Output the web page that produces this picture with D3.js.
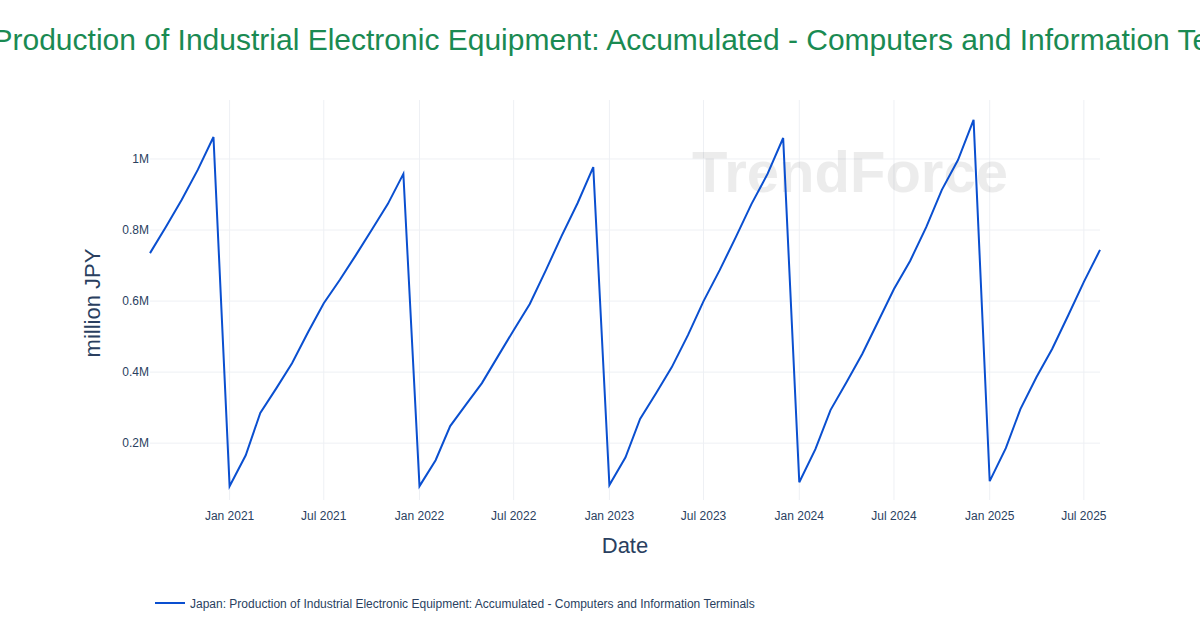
<!DOCTYPE html>
<html><head><meta charset="utf-8">
<script src="https://cdn.jsdelivr.net/npm/d3@7"></script>
<style>body{margin:0;background:#fff;font-family:"Liberation Sans",Arial,sans-serif}</style>
</head><body><svg id="c" width="1200" height="630" style="font-family:'Liberation Sans',Arial,sans-serif"></svg>
<script>
const startMonth = "2020-08";
const values = [0.735,0.81,0.885,0.97,1.062,
0.079,0.166,0.285,0.355,0.425,0.513,0.594,0.66,0.73,0.80,0.873,0.958,
0.079,0.152,0.248,0.31,0.369,0.445,0.518,0.592,0.687,0.783,0.876,0.977,
0.082,0.16,0.268,0.341,0.414,0.504,0.6,0.687,0.78,0.873,0.958,1.059,
0.09,0.183,0.293,0.372,0.451,0.544,0.634,0.713,0.808,0.913,0.997,1.11,
0.093,0.186,0.296,0.386,0.465,0.56,0.654,0.744];
const yTicks = [0.2,0.4,0.6,0.8,1.0];
const yTickLabels = ["0.2M","0.4M","0.6M","0.8M","1M"];
const xTicks = ["2021-01","2021-07","2022-01","2022-07","2023-01","2023-07","2024-01","2024-07","2025-01","2025-07"];
const fmtLabel = d3.timeFormat("%b %Y");
const parse = d3.timeParse("%Y-%m");
const start = parse(startMonth);
const data = values.map((v,i)=>({d:d3.timeMonth.offset(start,i),v}));

const svg = d3.select("#c");
const L=150,R=1100,T=100,B=500;
const x = d3.scaleTime().domain([data[0].d,data[data.length-1].d]).range([L,R]);
const y = d3.scaleLinear().domain([0.04,1.166]).range([B,T]);

svg.append("text").attr("x",600).attr("y",50).attr("text-anchor","middle")
 .attr("font-size",30).attr("fill","#1a8a52")
 .text("Japan: Production of Industrial Electronic Equipment: Accumulated - Computers and Information Terminals");

const g=svg.append("g");
xTicks.forEach(t=>{const xx=x(parse(t));
 g.append("line").attr("x1",xx).attr("x2",xx).attr("y1",T).attr("y2",B).attr("stroke","#eef0f4");
 g.append("text").attr("x",xx).attr("y",520).attr("text-anchor","middle").attr("font-size",12).attr("fill","#2a3f5f").text(fmtLabel(parse(t)));
});
yTicks.forEach((t,i)=>{const yy=y(t);
 g.append("line").attr("x1",L).attr("x2",R).attr("y1",yy).attr("y2",yy).attr("stroke","#eef0f4");
 g.append("text").attr("x",L-1).attr("y",yy+4).attr("text-anchor","end").attr("font-size",12).attr("fill","#2a3f5f").text(yTickLabels[i]);
});
svg.append("text").attr("x",850).attr("y",192).attr("text-anchor","middle").attr("font-size",58).attr("font-weight","bold")
 .attr("fill","#000").attr("opacity",0.07).text("TrendForce");
svg.append("text").attr("x",625).attr("y",553).attr("text-anchor","middle").attr("font-size",22).attr("fill","#2a3f5f").text("Date");
svg.append("text").attr("transform","translate(100,303) rotate(-90)").attr("text-anchor","middle").attr("font-size",22).attr("fill","#2a3f5f").text("million JPY");
svg.append("path").datum(data).attr("fill","none").attr("stroke","#0a4fd0").attr("stroke-width",2)
 .attr("d",d3.line().x(d=>x(d.d)).y(d=>y(d.v)));
svg.append("line").attr("x1",155).attr("x2",185).attr("y1",603).attr("y2",603).attr("stroke","#0a4fd0").attr("stroke-width",2);
svg.append("text").attr("x",190).attr("y",608).attr("font-size",12).attr("fill","#2a3f5f")
 .text("Japan: Production of Industrial Electronic Equipment: Accumulated - Computers and Information Terminals");
</script></body></html>
